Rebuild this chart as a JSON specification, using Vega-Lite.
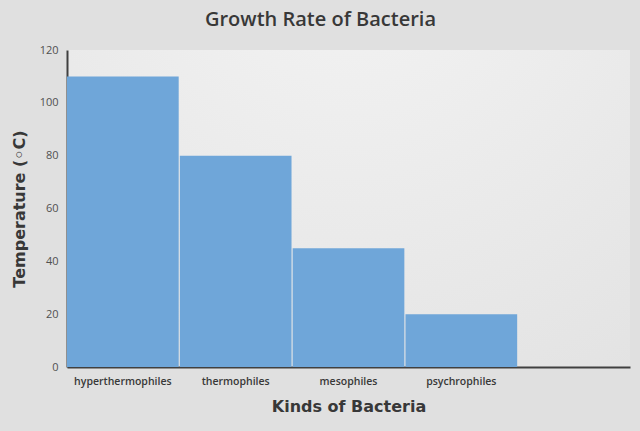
{
  "$schema": "https://vega.github.io/schema/vega-lite/v6.json",
  "width": 563,
  "height": 317,
  "autosize": "none",
  "padding": {"left": 67, "top": 50, "right": 10, "bottom": 64},
  "background": "#e0e0e0",
  "title": {
    "text": "Growth Rate of Bacteria",
    "font": "Open Sans",
    "fontSize": 20,
    "fontWeight": 600,
    "color": "#383838",
    "anchor": "middle",
    "dx": -28,
    "offset": 14
  },
  "data": {
    "values": [
      {"kind": "hyperthermophiles", "temperature": 110},
      {"kind": "thermophiles", "temperature": 80},
      {"kind": "mesophiles", "temperature": 45},
      {"kind": "psychrophiles", "temperature": 20}
    ]
  },
  "mark": {"type": "bar", "color": "#6fa6d9"},
  "encoding": {
    "x": {
      "field": "kind",
      "type": "nominal",
      "title": "Kinds of Bacteria",
      "scale": {
        "domain": ["hyperthermophiles", "thermophiles", "mesophiles", "psychrophiles", "(empty)"],
        "paddingInner": 0.01,
        "paddingOuter": 0
      },
      "axis": {
        "labelAngle": 0,
        "labelExpr": "datum.value == '(empty)' ? '' : datum.value",
        "labelFont": "Open Sans",
        "labelFontSize": 10.5,
        "labelFontWeight": 600,
        "labelColor": "#383838",
        "labelPadding": 9,
        "ticks": false,
        "domainColor": "#404040",
        "domainWidth": 2,
        "titleFont": "DejaVu Sans",
        "titleFontSize": 16,
        "titleFontWeight": "bold",
        "titleColor": "#383838",
        "titlePadding": 12
      }
    },
    "y": {
      "field": "temperature",
      "type": "quantitative",
      "title": "Temperature (◦C)",
      "scale": {"domain": [0, 120]},
      "axis": {
        "values": [0, 20, 40, 60, 80, 100, 120],
        "grid": false,
        "ticks": false,
        "labelFont": "Open Sans",
        "labelFontSize": 11,
        "labelColor": "#505050",
        "labelPadding": 9,
        "domainColor": "#404040",
        "domainWidth": 2,
        "titleFont": "DejaVu Sans",
        "titleFontSize": 16,
        "titleFontWeight": "bold",
        "titleColor": "#383838",
        "titlePadding": 12
      }
    }
  },
  "config": {
    "view": {
      "stroke": null,
      "fill": {
        "gradient": "radial",
        "x1": 0.5, "y1": 0, "r1": 0,
        "x2": 0.5, "y2": 0, "r2": 1.1,
        "stops": [
          {"offset": 0, "color": "#f4f4f4"},
          {"offset": 1, "color": "#e0e0e0"}
        ]
      }
    }
  }
}
